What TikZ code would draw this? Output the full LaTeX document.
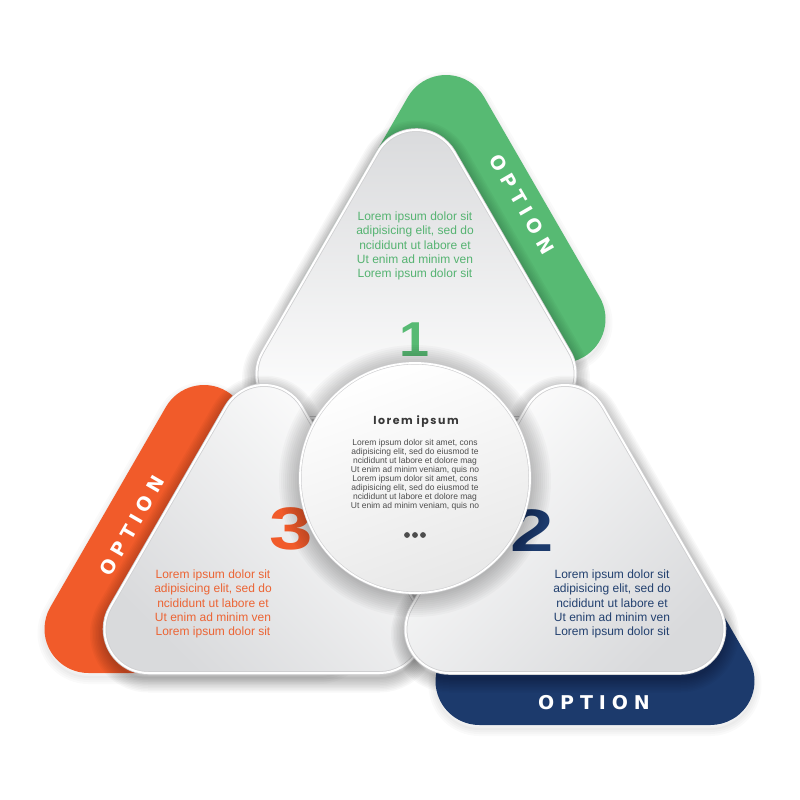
\documentclass[tikz,border=0pt]{standalone}
\usepackage{fontspec}
\setmainfont{Liberation Sans}
\newfontfamily\optfont{DejaVu Sans}[LetterSpace=31]
\newfontfamily\headfont{Poppins}[LetterSpace=14]
\definecolor{cgreen}{HTML}{57BA73}
\definecolor{corange}{HTML}{F15B2A}
\definecolor{cnavy}{HTML}{1C3A6C}
\definecolor{tgreen}{HTML}{55B371}
\definecolor{torange}{HTML}{EC6434}
\definecolor{tnavy}{HTML}{22406F}
\definecolor{tgray}{HTML}{4D4D4D}
\definecolor{pale}{HTML}{D9DADC}
\definecolor{rimgray}{HTML}{CFCFD1}
\newcommand\rtri[3]{\path[#1] (#2,#3) ++(210:44) arc[start angle=210,end angle=330,radius=44] -- ++(115.5,200) arc[start angle=330,end angle=450,radius=44] -- ++(-231,0) arc[start angle=90,end angle=210,radius=44] -- cycle;}
\newcommand\softshade[2]{\foreach \w in {2,5,...,29}{\rtri{draw=black,draw opacity=.028,line width=\w pt,line join=round}{#1}{#2}}}
\newcommand\bandshade[2]{\foreach \w in {2,6,...,14}{\rtri{draw=black,draw opacity=.02,line width=\w pt,line join=round}{#1}{#2}}}
\tikzset{
  body/.style={align=center,inner sep=0pt,font=\fontsize{12}{14.3}\selectfont},
  core/.style={align=center,inner sep=0pt,text=tgray,font=\fontsize{8.5}{8.95}\selectfont},
  opt/.style={text=white,inner sep=0pt,font=\optfont\bfseries\fontsize{19}{20}\selectfont},
  digit/.style={inner sep=0pt,font=\bfseries\fontsize{60}{60}\selectfont,xscale=1.3},
  rim/.style={draw=rimgray,line width=3.6pt},
  rimw/.style={draw=white,line width=2pt},
}
\begin{document}
\begin{tikzpicture}[x=1pt,y=-1pt]
\useasboundingbox (0,0) rectangle (800,800);
\fill[white] (0,0) rectangle (800,800);
% ---- triangle 1 (top, green)
\bandshade{446}{123}
\rtri{fill=cgreen}{446}{119}
\softshade{416}{179}
\rtri{top color=pale,bottom color=white,rim}{416}{174}
\rtri{rimw}{416}{174}
\node[body,text=tgreen] (t1) at (415,246) {Lorem ipsum dolor sit\\adipisicing elit, sed do\\ncididunt ut labore et\\Ut enim ad minim ven\\Lorem ipsum dolor sit};
\node[inner sep=0pt,text=cgreen,font=\bfseries\fontsize{49}{49}\selectfont,xscale=1.1] (d1) at (414,340) {1};
% ---- triangle 3 (left, orange)
\bandshade{204}{433}
\rtri{fill=corange}{204}{429}
\softshade{264}{434}
\rtri{top color=white,bottom color=pale,shading angle=-45,rim}{264}{429}
\rtri{rimw}{264}{429}
\node[body,text=torange] (t3) at (213,604) {Lorem ipsum dolor sit\\adipisicing elit, sed do\\ncididunt ut labore et\\Ut enim ad minim ven\\Lorem ipsum dolor sit};
\node[digit,text=corange] (d3) at (291,529) {3};
% ---- triangle 2 (right, navy)
\bandshade{595}{485}
\rtri{fill=cnavy}{595}{481}
\softshade{565}{434}
\rtri{top color=white,bottom color=pale,shading angle=45,rim}{565}{429}
\rtri{rimw}{565}{429}
\node[body,text=tnavy] (t2) at (612,604) {Lorem ipsum dolor sit\\adipisicing elit, sed do\\ncididunt ut labore et\\Ut enim ad minim ven\\Lorem ipsum dolor sit};
\node[digit,text=cnavy] (d2) at (532,531) {2};
% ---- central circle
\foreach \w in {2,6,...,42}{\path[draw=black,draw opacity=.022,line width=\w pt] (415,481) circle[radius=115];}
\path[top color=white,bottom color=black!9,shading angle=20,draw=rimgray,line width=3pt] (415,478) circle[radius=115];
\path[draw=white,line width=1.8pt] (415,478) circle[radius=115];
\node[inner sep=0pt,text=black!78,font=\headfont\bfseries\fontsize{11}{13}\selectfont] (head) at (416,422) {lorem ipsum};
\node[core] (core) at (415,475) {Lorem ipsum dolor sit amet, cons\\adipisicing elit, sed do eiusmod te\\ncididunt ut labore et dolore mag\\Ut enim ad minim veniam, quis no\\Lorem ipsum dolor sit amet, cons\\adipisicing elit, sed do eiusmod te\\ncididunt ut labore et dolore mag\\Ut enim ad minim veniam, quis no};
\foreach \x in {407,415,423}{\fill[tgray] (\x,535) circle[radius=2.9];}
% ---- OPTION labels
\node[opt,rotate=-60] (o1) at (522,204) {OPTION};
\node[opt,rotate=60] (o3) at (132,526) {OPTION};
\node[opt] (o2) at (594,703) {OPTION};
\end{tikzpicture}
\end{document}
